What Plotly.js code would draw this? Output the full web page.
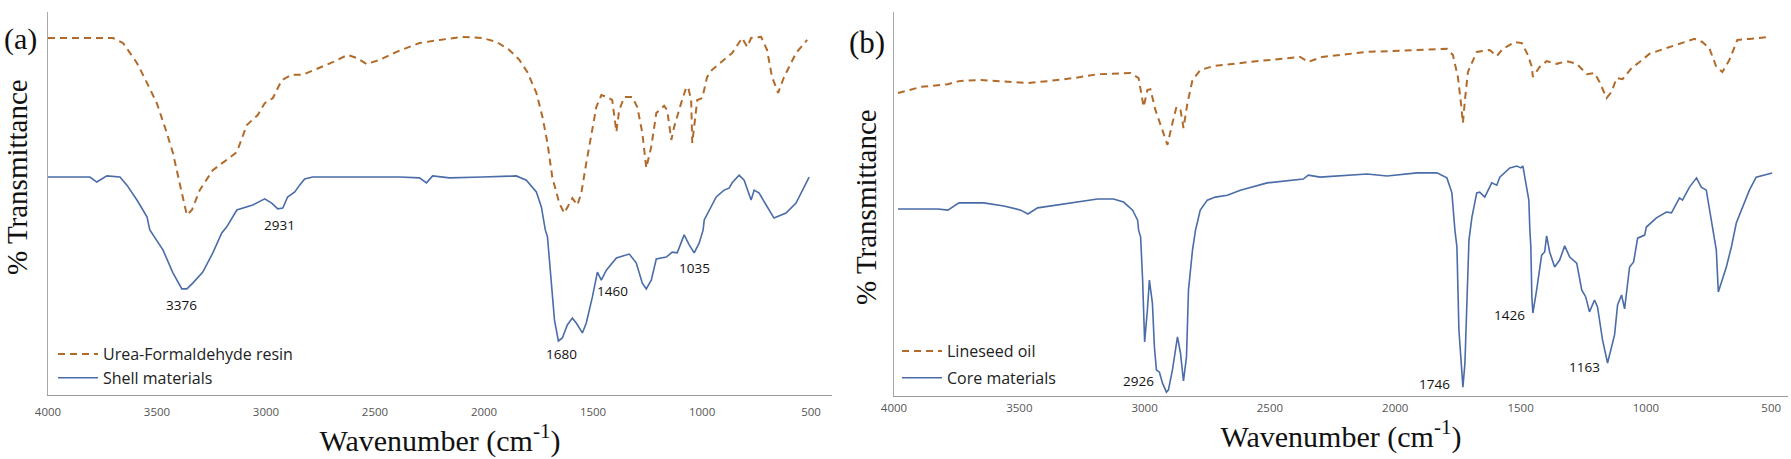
<!DOCTYPE html>
<html>
<head>
<meta charset="utf-8">
<script src="https://cdn.plot.ly/plotly-3.0.1.min.js"></script>
<style>html,body{margin:0;padding:0;background:#fff;}#chart{width:1791px;height:459px;}</style>
</head>
<body>
<div id="chart"></div>
<script>
// ---- Panel (a): Urea-Formaldehyde resin (dashed) ----
var uf_wn = [4000,3702,3656,3592,3546,3501,3455,3427,3386,3363,3340,3304,3244,3180,3134,3088,3038,3006,2969,2928,2882,2832,2754,2694,2626,2584,2539,2479,2401,2296,2204,2099,2007,1943,1884,1838,1801,1760,1732,1709,1687,1655,1632,1609,1595,1572,1554,1531,1508,1485,1462,1435,1412,1393,1380,1357,1320,1297,1274,1256,1233,1210,1174,1160,1141,1128,1096,1073,1064,1050,1045,1032,1022,999,977,954,912,862,816,793,775,729,702,679,651,624,569,518];
var uf_t = [93.2,93.2,91.9,86.7,81.5,76.2,68.4,63.2,52.7,47.0,48.3,53.5,58.7,61.4,63.4,70.5,73.1,76.2,77.5,82.2,83.6,83.6,85.4,86.9,88.8,88.0,86.4,87.5,89.6,91.9,92.7,93.5,93.2,92.2,90.1,87.5,84.3,78.9,72.6,65.8,56.9,50.1,47.5,50.1,51.4,49.6,52.7,60.6,68.4,75.2,78.3,77.8,77.0,68.7,74.4,77.8,77.8,75.2,68.4,59.3,64.8,73.6,75.5,74.4,66.6,70.0,76.2,80.2,80.4,77.0,65.8,71.8,77.0,77.5,83.0,84.9,86.9,89.3,93.2,90.9,93.2,93.5,90.1,83.0,78.9,83.0,89.3,92.7];

// ---- Panel (a): Shell materials (solid) ----
var shell_wn = [4000,3808,3776,3730,3670,3638,3592,3546,3533,3473,3427,3386,3363,3336,3290,3244,3203,3180,3134,3061,3006,2974,2946,2923,2901,2868,2846,2823,2786,2387,2296,2264,2236,2158,2007,1852,1806,1760,1737,1719,1709,1691,1677,1659,1641,1618,1595,1577,1549,1531,1503,1480,1462,1439,1393,1334,1302,1274,1256,1233,1210,1164,1137,1114,1082,1059,1036,1013,995,990,935,899,876,862,830,807,775,761,738,706,670,615,569,509];
var shell_t = [56.9,56.9,55.6,57.2,56.9,54.8,50.9,46.5,43.1,37.9,31.9,27.7,27.7,29.2,32.1,37.1,42.3,43.9,48.3,49.6,51.2,50.1,48.6,48.8,51.7,53.0,54.8,56.4,56.9,56.9,56.7,55.4,57.2,56.7,56.9,57.2,56.1,53.0,49.1,43.1,41.3,30.0,19.6,14.1,14.9,18.3,20.1,18.8,16.2,18.8,25.6,32.1,30.0,32.6,35.8,36.8,34.5,29.2,27.7,30.0,35.5,36.0,37.3,37.1,41.8,39.2,37.1,39.7,43.1,45.7,51.7,53.5,54.0,55.4,57.4,56.1,50.9,53.5,52.7,49.6,46.2,47.5,50.1,56.9];

// ---- Panel (b): Lineseed oil (dashed) ----
var oil_wn = [3984,3892,3785,3741,3654,3562,3466,3387,3283,3188,3056,3024,3008,3004,2989,2977,2957,2929,2909,2889,2873,2857,2845,2829,2809,2778,2726,2578,2379,2347,2292,2113,1913,1794,1770,1750,1738,1730,1722,1710,1675,1623,1595,1571,1523,1495,1471,1455,1451,1424,1396,1356,1316,1276,1236,1205,1185,1157,1137,1117,1093,1057,1025,986,918,854,806,775,747,719,695,667,635,587,508];
var oil_t = [78.9,80.5,81.2,82.0,82.3,82.0,81.5,82.0,82.8,83.8,84.1,82.8,77.1,75.3,79.7,79.9,74.5,69.3,65.4,71.1,75.3,74.5,69.8,76.3,82.3,84.9,85.9,87.0,88.3,87.0,88.3,89.6,90.1,90.4,88.8,83.1,76.3,71.1,77.1,84.4,89.6,90.1,88.5,90.4,92.2,91.9,88.8,85.7,83.1,85.7,87.2,86.5,87.2,86.5,83.8,84.1,81.8,77.6,79.2,82.8,82.5,85.4,87.0,89.1,90.6,91.9,93.0,92.2,90.6,85.7,84.4,87.5,92.7,93.0,93.5];

// ---- Panel (b): Core materials (solid) ----
var core_wn = [3984,3825,3785,3741,3642,3562,3494,3466,3427,3295,3188,3124,3084,3048,3028,3024,3016,3008,3000,2989,2981,2969,2961,2953,2941,2929,2913,2905,2889,2869,2857,2845,2833,2825,2809,2797,2778,2750,2718,2670,2618,2511,2367,2347,2300,2113,2033,1913,1834,1794,1774,1762,1754,1746,1730,1722,1714,1706,1694,1675,1663,1643,1615,1595,1583,1543,1515,1499,1491,1479,1467,1463,1459,1455,1451,1436,1416,1404,1396,1384,1364,1344,1324,1304,1276,1256,1240,1225,1205,1193,1173,1153,1125,1113,1097,1085,1065,1049,1033,1005,998,958,918,898,866,854,826,798,779,759,735,719,711,679,659,647,639,587,560,496];
var core_t = [48.7,48.7,48.4,50.3,50.3,49.5,48.4,47.4,49.0,50.3,51.3,51.3,50.5,48.4,45.8,43.2,41.4,30.2,14.1,22.4,30.2,24.2,12.8,6.8,6.2,3.4,1.0,1.6,6.8,15.4,11.2,3.9,10.2,27.6,38.0,43.2,48.4,51.0,51.8,52.3,53.6,55.5,56.5,57.5,57.0,57.8,57.3,58.1,58.1,56.8,52.9,43.2,38.8,17.2,2.3,8.6,25.8,40.6,46.6,52.9,53.1,51.8,55.5,54.9,57.0,59.4,59.9,59.4,59.9,55.7,51.0,43.2,38.8,25.8,21.6,27.6,36.7,37.5,41.7,37.5,33.6,35.4,39.1,36.2,34.6,27.6,25.8,21.9,25.0,23.2,14.6,8.6,15.9,23.7,26.3,22.7,33.6,34.9,41.1,41.9,44.0,46.4,47.9,47.7,51.6,51.0,54.4,56.8,54.4,53.6,44.0,38.0,27.1,33.6,38.8,43.2,45.1,53.6,57.0,58.1];

// ---- ticks ----
var tick_vals = [4000,3500,3000,2500,2000,1500,1000,500];
var tick_text = ['4000','3500','3000','2500','2000','1500','1000','500'];

// ---- peak labels ----
var peaksA_text = ['3376','2931','1680','1460','1035'];
var peaksA_wn = [3386,2937,1645,1412,1036];
var peaksA_t = [23.5,44.4,10.7,27.2,33.2];
var peaksB_text = ['2926','1746','1426','1163'];
var peaksB_wn = [3024,1842,1543,1244];
var peaksB_t = [3.9,3.1,21.1,7.6];

var BROWN = '#b26a2a';
var BLUE = '#4a6ca8';
var W = 1791, H = 459;
function px(x){return x/W;}
function py(y){return 1 - y/H;}

var traces = [
  {x: uf_wn, y: uf_t, xaxis:'x', yaxis:'y', mode:'lines', name:'Urea-Formaldehyde resin',
   line:{color:BROWN, width:2, dash:'7px,5px'}, legend:'legend'},
  {x: shell_wn, y: shell_t, xaxis:'x', yaxis:'y', mode:'lines', name:'Shell materials',
   line:{color:BLUE, width:1.6}, legend:'legend'},
  {x: oil_wn, y: oil_t, xaxis:'x2', yaxis:'y2', mode:'lines', name:'Lineseed oil',
   line:{color:BROWN, width:2, dash:'7px,5px'}, legend:'legend2', legendgroup:'g1'},
  {x: core_wn, y: core_t, xaxis:'x2', yaxis:'y2', mode:'lines', name:'Core materials',
   line:{color:BLUE, width:1.6}, legend:'legend2', legendgroup:'g2'}
];

var tickFont = {family:'Open Sans', size:11.5, color:'#555'};
var xTitleFont = {family:'Liberation Serif', size:30, color:'#111'};
var yTitleFont = {family:'Liberation Serif', size:29, color:'#111'};
var labelFont = {family:'Open Sans', size:13.5, color:'#111'};

function xax(d0, d1, r1, anchor, standoff, tstand){
  return {domain:[px(d0), px(d1)], range:[4000, r1], anchor:anchor,
    tickmode:'array', tickvals:tick_vals, ticktext:tick_text, ticks:'',
    ticklabelstandoff: standoff,
    showline:true, linecolor:'#9a9a9a', linewidth:1.2, showgrid:false, zeroline:false,
    tickfont:tickFont, automargin:false, fixedrange:true,
    title:{text:'Wavenumber (cm<sup>-1</sup>)', font:xTitleFont, standoff:tstand}};
}
function yax(bottom, anchor){
  return {domain:[py(bottom), py(12)], range:[0,100], anchor:anchor,
    showline:true, linecolor:'#a8a8a8', linewidth:1.2, showticklabels:false, ticks:'',
    showgrid:false, zeroline:false, automargin:false, fixedrange:true};
}

var annotations = [];
peaksA_text.forEach(function(t,i){
  annotations.push({text:t, x:peaksA_wn[i], y:peaksA_t[i], xref:'x', yref:'y', showarrow:false, font:labelFont});
});
peaksB_text.forEach(function(t,i){
  annotations.push({text:t, x:peaksB_wn[i], y:peaksB_t[i], xref:'x2', yref:'y2', showarrow:false, font:labelFont});
});
function paperText(t, x, y, font, angle){
  var a = {text:t, x:px(x), y:py(y), xref:'paper', yref:'paper', xanchor:'center', yanchor:'middle', showarrow:false, font:font};
  if(angle !== undefined) a.textangle = angle;
  return a;
}
annotations.push(paperText('(a)', 20, 39, {family:'Liberation Serif', size:30, color:'#111'}));
annotations.push(paperText('(b)', 867, 42, {family:'Liberation Serif', size:31, color:'#111'}));
annotations.push(paperText('% Transmittance', 17, 177, yTitleFont, -90));
annotations.push(paperText('% Transmittance', 866, 207, yTitleFont, -90));

var legendFont = {family:'Open Sans', size:16, color:'#222'};
var layout = {
  width: W, height: H,
  margin:{l:0, r:0, t:0, b:0},
  paper_bgcolor:'#fff', plot_bgcolor:'#fff',
  showlegend:true,
  xaxis: xax(48, 832, 404, 'y', 6, 7),
  yaxis: yax(395, 'x'),
  xaxis2: xax(894, 1788, 433, 'y2', 1, 8),
  yaxis2: yax(396, 'x2'),
  legend:{x:px(53), y:py(337), xanchor:'left', yanchor:'top', font:legendFont, bgcolor:'rgba(0,0,0,0)', itemwidth:40, traceorder:'normal'},
  legend2:{x:px(897), y:py(334), xanchor:'left', yanchor:'top', font:legendFont, bgcolor:'rgba(0,0,0,0)', itemwidth:40, tracegroupgap:3},
  annotations: annotations,
  hovermode:false
};

Plotly.newPlot('chart', traces, layout, {displayModeBar:false, staticPlot:true});
</script>
</body>
</html>
